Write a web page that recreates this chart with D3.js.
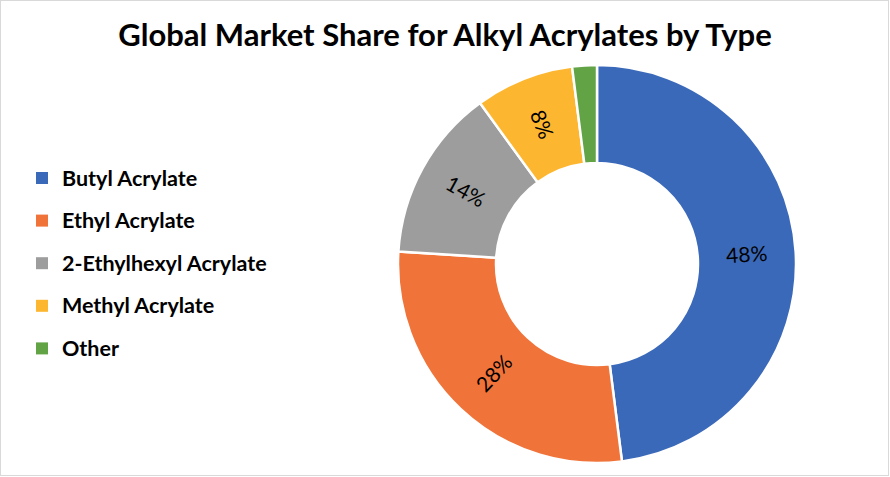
<!DOCTYPE html>
<html>
<head>
<meta charset="utf-8">
<script src="https://cdn.jsdelivr.net/npm/d3@7"></script>
<style>
  body { margin: 0; background: #fff; }
  text { font-family: Lato, "Open Sans", sans-serif; }
</style>
</head>
<body>
<svg id="chart" width="890" height="477"></svg>
<script>
// chart data
const categories = ['Butyl Acrylate', 'Ethyl Acrylate', '2-Ethylhexyl Acrylate', 'Methyl Acrylate', 'Other'];
const shares = [48, 28, 14, 8, 2];
const colors = ['#3B69B9', '#F07339', '#9D9D9D', '#FDB62F', '#62A346'];

const svg = d3.select('#chart');
const W = 890, H = 477;

// thin frame round the chart area
svg.append('rect')
  .attr('x', 0.5).attr('y', 0.5)
  .attr('width', W - 2).attr('height', H - 2)
  .attr('fill', '#fff')
  .attr('stroke', '#d9d9d9');

svg.append('text')
  .attr('x', 445).attr('y', 46)
  .attr('text-anchor', 'middle')
  .attr('font-size', 31).attr('font-weight', 700)
  .attr('fill', '#000')
  .text('Global Market Share for Alkyl Acrylates by Type');

// donut
const cx = 597, cy = 264, rOut = 199, rIn = 101;
const pie = d3.pie().sort(null).value(d => d.v);
const arcs = pie(categories.map((c, i) => ({ c: c, v: shares[i], col: colors[i] })));
const arc = d3.arc().innerRadius(rIn).outerRadius(rOut);

const g = svg.append('g').attr('transform', `translate(${cx},${cy})`);

g.selectAll('path')
  .data(arcs)
  .enter()
  .append('path')
  .attr('d', arc)
  .attr('fill', d => d.data.col)
  .attr('stroke', '#fff')
  .attr('stroke-width', 2.5);

// labels sit on the ring, turned along the radius
g.selectAll('text.lbl')
  .data(arcs.filter(d => d.data.v >= 5))
  .enter()
  .append('text')
  .attr('class', 'lbl')
  .attr('transform', d => {
    const [x, y] = arc.centroid(d);
    let a = (d.startAngle + d.endAngle) / 2 * 180 / Math.PI - 90;
    if (a > 90) a -= 180;
    return `translate(${x},${y}) rotate(${a})`;
  })
  .attr('text-anchor', 'middle')
  .attr('dy', '0.35em')
  .attr('font-size', 21)
  .attr('fill', '#000')
  .text(d => d.data.v + '%');

// legend
const legend = svg.append('g');
const rows = legend.selectAll('g')
  .data(categories)
  .enter()
  .append('g')
  .attr('transform', (d, i) => `translate(36,${178 + i * 42.6})`);

rows.append('rect')
  .attr('x', 0).attr('y', -6)
  .attr('width', 12).attr('height', 12)
  .attr('fill', (d, i) => colors[i]);

rows.append('text')
  .attr('x', 26).attr('y', 0)
  .attr('dy', '0.35em')
  .attr('font-size', 21.5).attr('font-weight', 700)
  .attr('fill', '#000')
  .text(d => d);
</script>
</body>
</html>
